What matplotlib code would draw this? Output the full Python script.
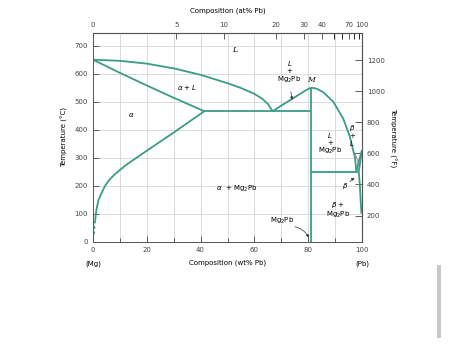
import numpy as np
import matplotlib
matplotlib.use("Agg")
import matplotlib.pyplot as plt
from matplotlib.patches import Rectangle

# phase boundaries, (wt% Pb, degC)
liq_mg_x = [0, 10, 20, 30, 40, 50, 55, 60, 63, 65, 66.8]
liq_mg_t = [650, 646, 636, 619, 596, 566, 549, 528, 510, 492, 466]
sol_a_x = [0, 10, 20, 30, 41.4]
sol_a_t = [650, 603, 558, 514, 466]
solvus_x = [41.4, 30, 20, 15, 12, 10, 8, 6, 4.5, 3, 2, 1.2, 0.8]
solvus_t = [466, 390, 325, 292, 272, 256, 240, 220, 200, 170, 148, 110, 75]
solvus_dash_x = [0.8, 0.5, 0.3]
solvus_dash_t = [75, 50, 25]
liq_m_left_x = [66.8, 70, 74, 77, 79.5, 81]
liq_m_left_t = [466, 486, 510, 528, 543, 550]
liq_m_right_x = [81, 83, 85.6, 89.3, 93, 95.5, 97.4, 97.9]
liq_m_right_t = [550, 547, 534, 500, 440, 375, 300, 250]
liq_pb_x = [100, 98.9, 97.9]
liq_pb_t = [327, 290, 250]
sol_b_x = [100, 98.8]
sol_b_t = [327, 250]
solvus_b_x = [98.8, 99.2, 99.6, 99.8]
solvus_b_t = [250, 200, 130, 100]
eut1_x = [41.4, 81]
eut1_t = [466, 466]
eut2_x = [81, 98.8]
eut2_t = [250, 250]
mg2pb_x = [81, 81]
mg2pb_t = [0, 550]

at_ticks = [0, 5, 10, 20, 30, 40, 70, 100]
at_minor = [50, 60, 80, 90]
f_ticks = [200, 400, 600, 800, 1000, 1200]

M_MG, M_PB = 24.305, 207.2


def at_to_wt(a):
    a = np.asarray(a, dtype=float)
    return a * M_PB / (a * M_PB + (100 - a) * M_MG) * 100


def wt_to_at(w):
    w = np.asarray(w, dtype=float)
    return (w / M_PB) / (w / M_PB + (100 - w) / M_MG + 1e-12) * 100


green = "#3a9c88"
fs = 5

fig = plt.figure(figsize=(4.74, 3.53), dpi=100)
ax = fig.add_axes([93 / 474, 1 - 241.7 / 353, 269 / 474, 208.6 / 353])

ax.set_xlim(0, 100)
ax.set_ylim(0, 745)
ax.set_xticks(range(0, 101, 20))
ax.set_xticks(range(10, 100, 20), minor=True)
ax.set_yticks(range(0, 701, 100))
ax.grid(True, which="both", color="#d4d4d4", lw=0.6)
ax.set_axisbelow(True)
ax.tick_params(direction="in", labelsize=fs, length=4, width=0.6, colors="#444444")
ax.tick_params(which="minor", direction="in", length=3, width=0.6, colors="#444444")
for s in ax.spines.values():
    s.set_color("#555555")
    s.set_linewidth(0.7)

lw = 1.3
for xs, ts in [(liq_mg_x, liq_mg_t), (sol_a_x, sol_a_t), (solvus_x, solvus_t),
               (liq_m_left_x, liq_m_left_t), (liq_m_right_x, liq_m_right_t),
               (liq_pb_x, liq_pb_t), (sol_b_x, sol_b_t), (solvus_b_x, solvus_b_t),
               (eut1_x, eut1_t), (eut2_x, eut2_t), (mg2pb_x, mg2pb_t)]:
    ax.plot(xs, ts, color=green, lw=lw, solid_capstyle="butt")
ax.plot(solvus_dash_x, solvus_dash_t, color=green, lw=lw, ls=(0, (1.5, 1.5)))

# top axis in at%
top = ax.secondary_xaxis("top", functions=(wt_to_at, at_to_wt))
top.set_xticks(at_ticks)
top.set_xticks(at_minor, minor=True)
top.set_xticklabels([str(t) for t in at_ticks])
top.tick_params(direction="in", labelsize=fs, length=4, width=0.6, colors="#444444")
top.tick_params(which="minor", direction="in", length=4, width=0.6)
top.set_xlabel("Composition (at% Pb)", fontsize=fs, labelpad=7)

# right axis in degF
right = ax.secondary_yaxis("right", functions=(lambda c: c * 9 / 5 + 32,
                                               lambda f: (f - 32) * 5 / 9))
right.set_yticks(f_ticks)
right.tick_params(direction="in", labelsize=fs, length=5, width=0.6, colors="#444444")
right.set_ylabel("Temperature (°F)", fontsize=fs, rotation=-90, labelpad=8)

ax.set_xlabel("Composition (wt% Pb)", fontsize=fs, labelpad=5)
ax.set_ylabel("Temperature (°C)", fontsize=fs, labelpad=5)
ax.text(0, -78, "(Mg)", fontsize=fs, ha="center", va="center", clip_on=False)
ax.text(100, -78, "(Pb)", fontsize=fs, ha="center", va="center", clip_on=False)

it = dict(fontstyle="italic", family="DejaVu Serif", fontsize=fs + 0.5,
          ha="center", va="center")
tx = dict(fontsize=fs, ha="center", va="center")
ax.text(52.8, 685, "L", **it)
ax.text(35, 552, r"$\alpha$ + $L$", **tx)
ax.text(14.1, 452, r"$\alpha$", **tx)
ax.text(73, 606, "$L$\n+\nMg$_2$Pb", linespacing=1.0, **tx)
ax.annotate("", xy=(74.2, 497), xytext=(73.4, 545),
            arrowprops=dict(arrowstyle="-|>", color="#333333", lw=0.5,
                            mutation_scale=4))
ax.text(81, 576, "M", **it)
ax.text(88.1, 352, "$L$\n+\nMg$_2$Pb", linespacing=1.0, **tx)
ax.text(96.2, 378, r"$\beta$" + "\n+\n$L$", linespacing=1.0, **tx)
ax.plot([97.4, 98.6], [318, 282], color="#d05050", lw=0.5)
ax.text(53.5, 188, r"$\alpha$  + Mg$_2$Pb", **tx)
ax.text(70.3, 73, "Mg$_2$Pb", **tx)
ax.annotate("", xy=(80.6, 6), xytext=(74, 55),
            arrowprops=dict(arrowstyle="-|>", color="#333333", lw=0.5,
                            mutation_scale=4,
                            connectionstyle="arc3,rad=-0.3"))
ax.text(91.2, 112, r"$\beta$ +" + "\nMg$_2$Pb", linespacing=1.0, **tx)
ax.text(93.8, 200, r"$\beta$", **tx)
ax.annotate("", xy=(98.3, 228), xytext=(95, 205),
            arrowprops=dict(arrowstyle="-|>", color="#333333", lw=0.5,
                            mutation_scale=4,
                            connectionstyle="arc3,rad=-0.3"))

# grey scroll bar at right
fig.add_artist(Rectangle((437 / 474, (353 - 338) / 353), 4 / 474, 73 / 353,
                         transform=fig.transFigure, color="#c8c8c8", lw=0))

fig.savefig("out.png", dpi=100, facecolor="white")
